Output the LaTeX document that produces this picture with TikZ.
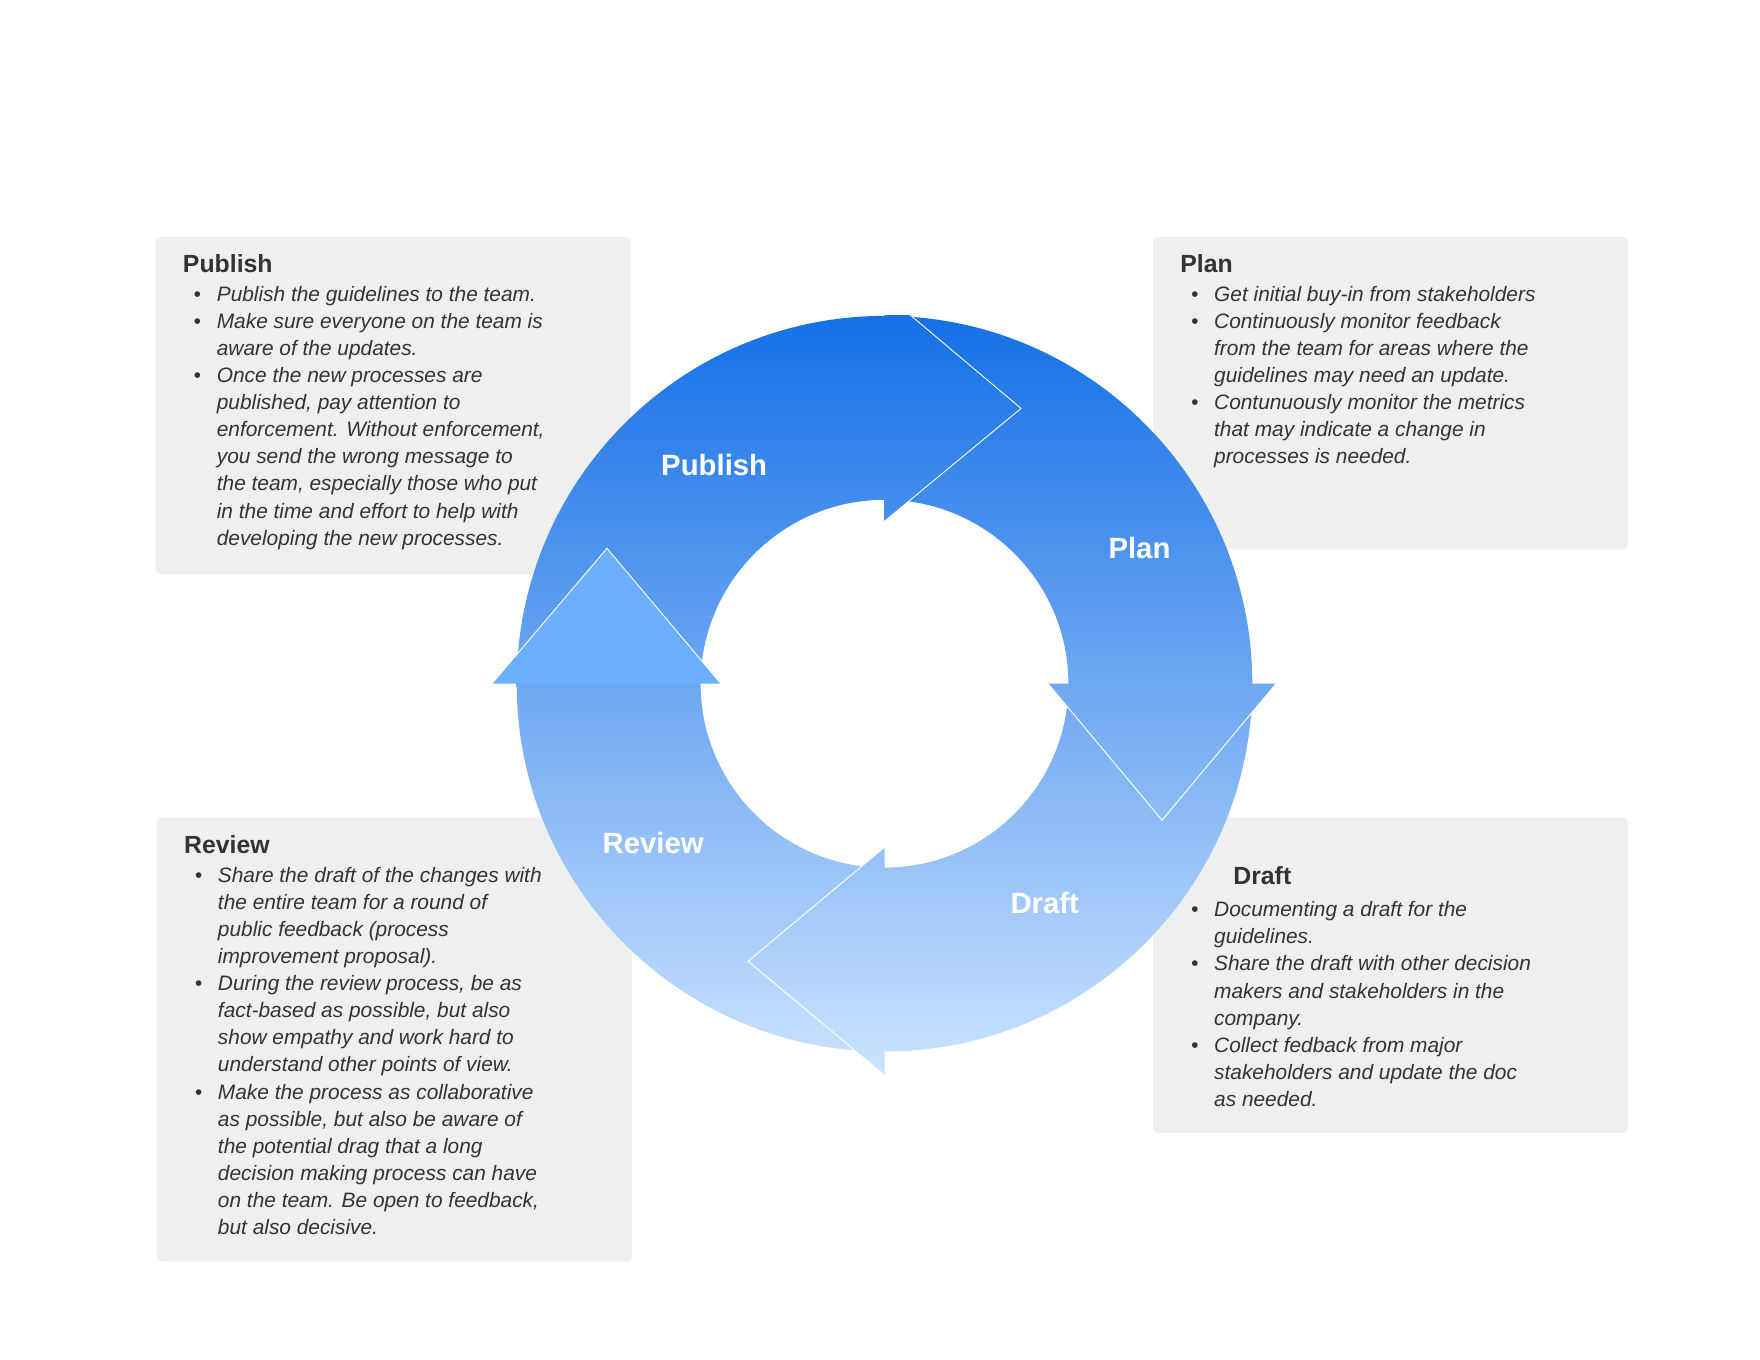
\documentclass[tikz,border=0pt]{standalone}
\usepackage{fontspec}
\setmainfont{Liberation Sans}
\usepackage{enumitem}
\definecolor{boxg}{HTML}{EEEFEF}
\definecolor{txt}{HTML}{333333}
\definecolor{ctop}{HTML}{1570E6}
\definecolor{cmid}{HTML}{6AAEFF}
\definecolor{cbot}{HTML}{CCE3FF}
\definecolor{cleft}{HTML}{6DAFFF}
\tikzset{
 infobox/.style={fill=boxg, rounded corners=4pt, draw=none},
 infotext/.style={anchor=north west, text=txt, align=left, inner sep=0pt, font=\fontsize{18.5}{24}\selectfont},
 ringlabel/.style={text=white, font=\bfseries\fontsize{26}{30}\selectfont},
 edge/.style={draw=white, line width=0.8pt},
}
\newcommand{\ttl}[1]{{\bfseries\fontsize{22}{26}\selectfont #1}\par\vspace{2pt}}
\newlist{bl}{itemize}{1}
\setlist[bl]{label=\textbullet, leftmargin=30pt, labelsep=14pt, itemsep=0pt, topsep=0pt, parsep=0pt, partopsep=0pt}
\newcommand{\grad}{\shade[top color=ctop, middle color=cmid, bottom color=cbot] (450,280) rectangle (1140,953);}
\begin{document}
\begin{tikzpicture}[x=1pt,y=-1pt]
\useasboundingbox (0,0) rectangle (1560,1205);
\fill[white] (0,0) rectangle (1560,1205);
% boxes
\path[infobox] (138,210) rectangle (559,509);
\path[infobox] (1022,210) rectangle (1443,487);
\path[infobox] (139,725) rectangle (560,1118);
\path[infobox] (1022,725) rectangle (1443,1004);
% ring
\begin{scope}
\clip (1110,606) arc[start angle=0,end angle=360,radius=326] -- (947,606) arc[start angle=360,end angle=0,radius=163] -- cycle;
\grad
\end{scope}
\begin{scope}\clip (784,260) -- (905,362) -- (784,462) -- cycle; \grad \end{scope}
\begin{scope}\clip (929,606) -- (1131,606) -- (1030,727) -- cycle; \grad \end{scope}
\begin{scope}\clip (784,751) -- (663,852) -- (784,953) -- cycle; \grad \end{scope}
\fill[cleft] (436,606) -- (538,486) -- (639,606) -- cycle;
\coordinate (t1) at (784,260); \coordinate (t2) at (905,362); \coordinate (t3) at (784,462);
\coordinate (r1) at (929,606); \coordinate (r2) at (1030,727); \coordinate (r3) at (1131,606);
\coordinate (b1) at (784,751); \coordinate (b2) at (663,852); \coordinate (b3) at (784,953);
\coordinate (l1) at (436,606); \coordinate (l2) at (538,486); \coordinate (l3) at (639,606);
\draw[edge] (t1) -- (t2) -- (t3);
\draw[edge] (r1) -- (r2) -- (r3);
\draw[edge] (b1) -- (b2) -- (b3);
\draw[edge] (l1) -- (l2) -- (l3);
% ring labels
\node[ringlabel] (lp) at (633,412) {Publish};
\node[ringlabel] (ll) at (1010,486) {Plan};
\node[ringlabel] (ld) at (926,800) {Draft};
\node[ringlabel] (lr) at (579,747) {Review};
% texts
\node[infotext] (tp) at (162,225) {\begin{minipage}[t]{360pt}\ttl{Publish}
\begin{bl}\itshape
\item Publish the guidelines to the team.
\item Make sure everyone on the team is\\aware of the updates.
\item Once the new processes are\\published, pay attention to\\enforcement. Without enforcement,\\you send the wrong message to\\the team, especially those who put\\in the time and effort to help with\\developing the new processes.
\end{bl}\end{minipage}};
\node[infotext] (tl) at (1046,225) {\begin{minipage}[t]{360pt}\ttl{Plan}
\begin{bl}\itshape
\item Get initial buy-in from stakeholders
\item Continuously monitor feedback\\from the team for areas where the\\guidelines may need an update.
\item Contunuously monitor the metrics\\that may indicate a change in\\processes is needed.
\end{bl}\end{minipage}};
\node[infotext] (tr) at (163,740) {\begin{minipage}[t]{360pt}\ttl{Review}
\begin{bl}\itshape
\item Share the draft of the changes with\\the entire team for a round of\\public feedback (process\\improvement proposal).
\item During the review process, be as\\fact-based as possible, but also\\show empathy and work hard to\\understand other points of view.
\item Make the process as collaborative\\as possible, but also be aware of\\the potential drag that a long\\decision making process can have\\on the team. Be open to feedback,\\but also decisive.
\end{bl}\end{minipage}};
\node[infotext] (tdh) at (1093,768) {\bfseries\fontsize{22}{26}\selectfont Draft};
\node[infotext] (td) at (1046,799) {\begin{minipage}[t]{360pt}
\begin{bl}\itshape
\item Documenting a draft for the\\guidelines.
\item Share the draft with other decision\\makers and stakeholders in the\\company.
\item Collect fedback from major\\stakeholders and update the doc\\as needed.
\end{bl}\end{minipage}};
\end{tikzpicture}
\end{document}
